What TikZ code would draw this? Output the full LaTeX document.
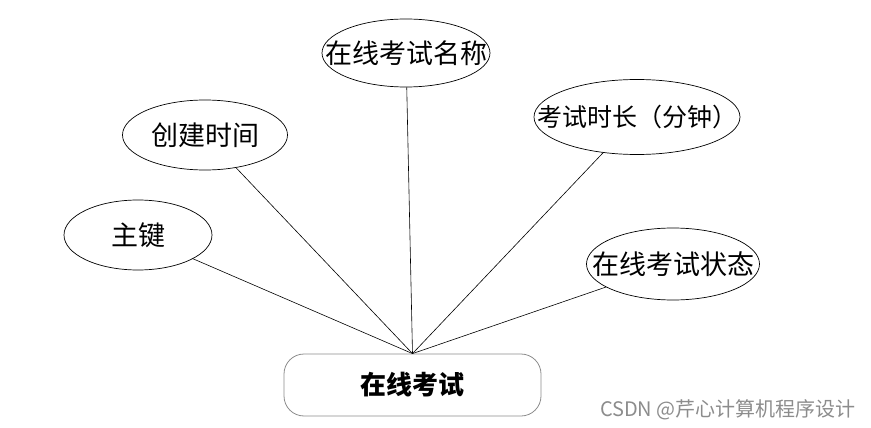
\documentclass[tikz,border=0pt]{standalone}
\usepackage{fontspec}
\setmainfont{Liberation Serif}
\newfontfamily\cjk{Noto Sans CJK SC}
\usetikzlibrary{shapes.geometric}
\begin{document}
\begin{tikzpicture}[x=1pt,y=-1pt,
  attrfont/.style={font=\cjk\fontsize{27}{29}\selectfont},
  attr/.style={ellipse,draw=black,line width=0.7pt,inner sep=0pt},
  entity/.style={rectangle,rounded corners=20pt,draw=black!45,line width=0.8pt,minimum width=257pt,minimum height=62pt,font=\cjk\bfseries\fontsize{26}{28}\selectfont},
  link/.style={draw=black,line width=0.6pt}]
\useasboundingbox (0,0) rectangle (871,428);
\node[entity] (box) at (412.5,385) {在线考试};
\node[attr,minimum width=168pt,minimum height=68pt,label={[attrfont]center:在线考试名称}] (name) at (406,53) {};
\node[attr,minimum width=165pt,minimum height=70pt,label={[attrfont]center:创建时间}] (ctime) at (205,135) {};
\node[attr,minimum width=148pt,minimum height=70pt,label={[attrfont]center:主键}] (pk) at (138,235) {};
\node[attr,minimum width=206pt,minimum height=75pt,label={[attrfont,font=\cjk\fontsize{25}{27}\selectfont]center:考试时长（分钟）}] (dur) at (637,117) {};
\node[attr,minimum width=173pt,minimum height=72pt,label={[attrfont]center:在线考试状态}] (state) at (673,264) {};
\draw[link] (pk) -- (box.north);
\draw[link] (ctime) -- (box.north);
\draw[link] (name) -- (box.north);
\draw[link] (dur) -- (box.north);
\draw[link] (state) -- (box.north);
\node[text=black!45,font=\cjk\fontsize{20}{22}\selectfont,anchor=east,inner sep=0pt] (wm) at (856,410) {CSDN @芹心计算机程序设计};
\end{tikzpicture}
\end{document}
